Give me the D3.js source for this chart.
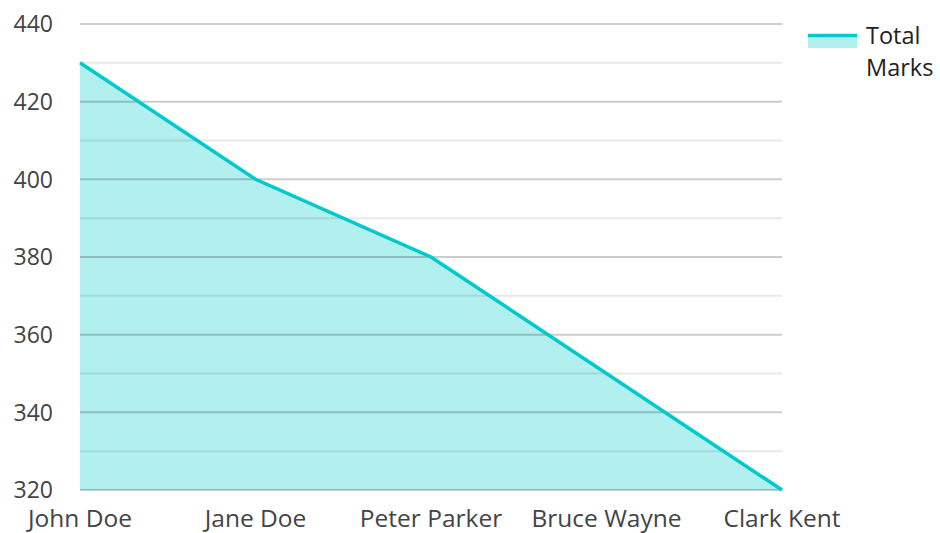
<!DOCTYPE html>
<html>
<head>
<meta charset="utf-8">
<script src="https://cdn.jsdelivr.net/npm/d3@7"></script>
<style>
  body { margin: 0; background: #fff; }
  text { font-family: "Open Sans", sans-serif; fill: #444; }
</style>
</head>
<body>
<div id="chart"></div>
<script>
var names = ["John Doe", "Jane Doe", "Peter Parker", "Bruce Wayne", "Clark Kent"];
var totalMarks = [430, 400, 380, 350, 320];
var yTicks = [320, 340, 360, 380, 400, 420, 440];
var minorTicks = [330, 350, 370, 390, 410, 430];
var seriesName = ["Total", "Marks"];

var W = 940, H = 533;
var plotLeft = 80, plotRight = 782, plotTop = 24, plotBottom = 490;

var svg = d3.select("#chart").append("svg")
    .attr("width", W)
    .attr("height", H);

var x = d3.scalePoint()
    .domain(names)
    .range([plotLeft, plotRight]);

var y = d3.scaleLinear()
    .domain([320, 440])
    .range([plotBottom, plotTop]);

var data = names.map(function (n, i) { return { name: n, v: totalMarks[i] }; });

// area + line
var area = d3.area()
    .x(function (d) { return x(d.name); })
    .y0(y(320))
    .y1(function (d) { return y(d.v); });

var line = d3.line()
    .x(function (d) { return x(d.name); })
    .y(function (d) { return y(d.v); });

svg.append("path")
    .attr("d", area(data))
    .style("fill", "#b2efef");

// gridlines on top of the fill
svg.selectAll(".minor").data(minorTicks).enter().append("line")
    .attr("x1", plotLeft).attr("x2", plotRight)
    .attr("y1", function (d) { return y(d); })
    .attr("y2", function (d) { return y(d); })
    .style("stroke", "rgba(0,0,0,0.09)")
    .style("stroke-width", 2);

svg.selectAll(".major").data(yTicks).enter().append("line")
    .attr("x1", plotLeft).attr("x2", plotRight)
    .attr("y1", function (d) { return y(d); })
    .attr("y2", function (d) { return y(d); })
    .style("stroke", "rgba(0,0,0,0.2)")
    .style("stroke-width", 2);

svg.append("path")
    .attr("d", line(data))
    .style("fill", "none")
    .style("stroke", "#00c9cc")
    .style("stroke-width", 3.5);

// y labels
svg.selectAll(".ylab").data(yTicks).enter().append("text")
    .attr("x", 53)
    .attr("y", function (d) { return y(d); })
    .attr("dy", "0.36em")
    .attr("text-anchor", "end")
    .style("font-size", "23px")
    .text(function (d) { return d; });

// x labels
svg.selectAll(".xlab").data(names).enter().append("text")
    .attr("x", function (d) { return x(d); })
    .attr("y", 527)
    .attr("text-anchor", "middle")
    .style("font-size", "24.5px")
    .text(function (d) { return d; });

// legend
svg.append("rect")
    .attr("x", 808).attr("y", 34)
    .attr("width", 49).attr("height", 14)
    .style("fill", "#b2efef");
svg.append("line")
    .attr("x1", 808).attr("x2", 857)
    .attr("y1", 35.5).attr("y2", 35.5)
    .style("stroke", "#00c9cc")
    .style("stroke-width", 3.5);
svg.selectAll(".leg").data(seriesName).enter().append("text")
    .attr("x", 866)
    .attr("y", function (d, i) { return 44 + i * 32; })
    .style("font-size", "23.5px")
    .style("fill", "#222")
    .text(function (d) { return d; });
</script>
</body>
</html>
